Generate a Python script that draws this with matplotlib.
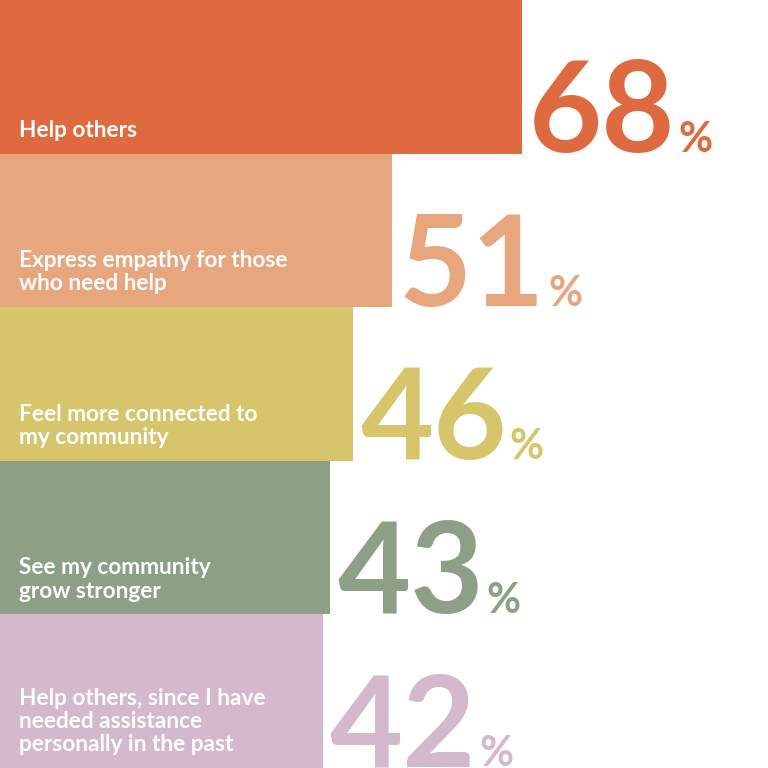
#!/usr/bin/env python3
import matplotlib
matplotlib.use("Agg")
import matplotlib.pyplot as plt
from matplotlib.transforms import blended_transform_factory, IdentityTransform

labels = [
    "Help others",
    "Express empathy for those\nwho need help",
    "Feel more connected to\nmy community",
    "See my community\ngrow stronger",
    "Help others, since I have\nneeded assistance\npersonally in the past",
]
values = [68, 51, 46, 43, 42]
colors = ["#E06A40", "#E8A67E", "#D6C56B", "#8D9F86", "#D4B8CB"]


def main():
    plt.rcParams['font.family'] = ['Lato', 'DejaVu Sans']
    fig = plt.figure(figsize=(7.68, 7.68), dpi=100)
    ax = fig.add_axes([0, 0, 1, 1])
    ypos = list(range(len(values)))
    ax.barh(ypos, values, height=1.0, color=colors, align='center')
    ax.set_xlim(0, 100)
    ax.set_ylim(len(values) - 0.5, -0.5)
    ax.axis('off')

    nums = []
    for i, (lab, v, c) in enumerate(zip(labels, values, colors)):
        ax.text(2.5, i + 0.39, lab, color='white', fontsize=16.3, fontweight='bold',
                va='baseline', ha='left', linespacing=1.12)
        t = ax.text(v + 0.9, i + 0.49, str(v), color=c, fontsize=91,
                    fontweight='bold', va='baseline', ha='left')
        nums.append(t)

    fig.canvas.draw()
    r = fig.canvas.get_renderer()
    trans = blended_transform_factory(IdentityTransform(), ax.transData)
    for i, (t, c) in enumerate(zip(nums, colors)):
        bb = t.get_window_extent(renderer=r)
        ax.text(bb.x1 + 3, i + 0.49, "%", color=c, fontsize=30,
                fontweight='bold', va='baseline', ha='left', transform=trans)

    fig.savefig("out.png", dpi=100)


if __name__ == '__main__':
    main()
